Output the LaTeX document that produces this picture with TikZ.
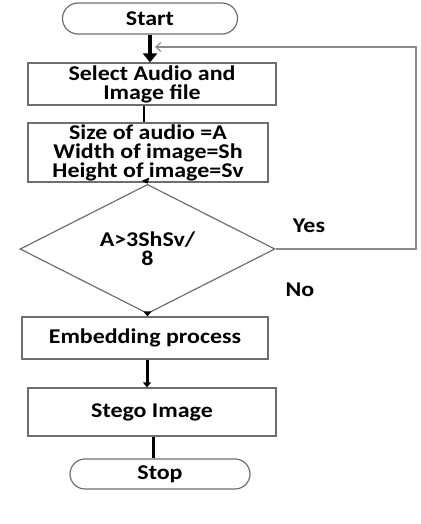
\documentclass[tikz,border=0pt]{standalone}
\usepackage{fontspec}
\setmainfont{Carlito}[FakeStretch=1.14]
\newfontfamily\capfont{Liberation Serif}
\usetikzlibrary{shapes.geometric,shapes.misc,arrows.meta}
\definecolor{boxgray}{HTML}{6E6E6E}
\definecolor{loopgray}{HTML}{8A8A8A}
\begin{document}
\begin{tikzpicture}[x=1pt,y=-1pt,
  every node/.style={font=\bfseries\fontsize{21}{19}\selectfont},
  term/.style={draw=boxgray,line width=1.2pt,rounded rectangle,inner sep=0pt},
  stepbox/.style={draw=boxgray,line width=1.2pt,rectangle,align=center,inner sep=0pt},
  test/.style={draw=boxgray,line width=1.2pt,diamond,align=center,inner sep=0pt},
  bigflow/.style={line width=4.5pt,-{Triangle[width=14pt,length=9pt]}},
  flow/.style={line width=3pt,-{Triangle[width=8pt,length=5pt]}},
  back/.style={draw=loopgray,line width=1.2pt,-{Straight Barb[length=5pt,width=9pt]}}]
\useasboundingbox (0,0) rectangle (420,524);

\node [term,minimum width=175pt,minimum height=31pt] (start) at (150,18.5) {Start};
\node [stepbox,minimum width=248pt,minimum height=42pt] (select) at (152,84) {Select Audio and\\Image file};
\node [stepbox,minimum width=240pt,minimum height=59pt] (size) at (148,152.5) {Size of audio =A\\Width of image=Sh\\Height of image=Sv};
\node [test,minimum width=255pt,minimum height=98pt] (cond) at (147.5,249) {A>3ShSv/\\8};
\node [stepbox,minimum width=246pt,minimum height=42pt] (embed) at (145,338) {Embedding process};
\node [stepbox,minimum width=248pt,minimum height=48pt] (stego) at (152,412) {Stego Image};
\node [term,minimum width=180pt,minimum height=30pt] (stop) at (160,474) {Stop};

\node (yes) at (309,226) {Yes};
\node (no) at (300,290) {No};

\coordinate (corner) at (416,249);
\coordinate (top) at (416,47);
\coordinate (join) at (155,47);

\draw [bigflow] (start.south) -- (start.south |- select.north);
\draw [line width=2pt] (144,0 |- select.south) -- (144,0 |- size.north);
\draw [flow] (147,0 |- size.south) -- (cond.north);
\draw [flow] (cond.south) -- (cond.south |- embed.north);
\draw [flow] (147,0 |- embed.south) -- (147,0 |- stego.north);
\draw [line width=3pt] (153,0 |- stego.south) -- (153,0 |- stop.north);
\draw [back] (cond.east) -- (corner) -- (top) -- (join);

\node [font=\capfont\fontsize{20}{20}\selectfont,anchor=base west,inner sep=0pt] (caption) at (0,544) {Fig.1: Flow diagram of the Data Hiding};
\end{tikzpicture}
\end{document}
